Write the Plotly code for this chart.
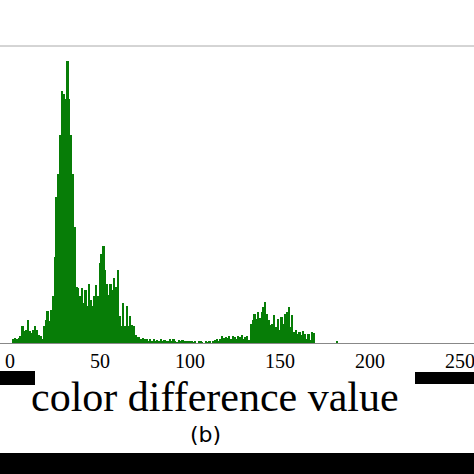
import plotly.graph_objects as go

# histogram counts per colour-difference bin (relative units)
low = [0, 0, 1.5, 1.7, 1.2, 1.8, 2.5, 5.6, 4, 4.5, 7.9, 4, 3.4, 4.5, 5.6, 4.5, 2.8, 2.2, 1.5, 5.6,
       7.9, 10.7, 7.3, 11.2, 15.7, 29, 49, 57, 70, 85, 84, 82, 95, 82, 70, 57, 39, 19, 18.5, 15.7,
       18.5, 13.5, 18, 12.3, 20, 14.6, 12.3, 15.7, 19.6, 15.7, 27, 30, 32.5, 24.7, 20, 16.3, 20, 18, 21.9, 19,
       24.7, 9, 5.6, 13.5, 5.6, 12.3, 5.6, 9, 6.2, 5.6, 2.8, 1.9, 1.9, 1.5, 1.8, 1.2, 1.5, 0.8, 1.2, 0.6,
       1.4, 0.5, 1.0, 0.7, 1.3, 0.4, 1.1, 0.8, 0.5, 1.2, 0.6, 1.3, 0.7, 0.3, 1.0, 0.5, 0.9, 0.4, 0.6, 0.5,
       0.4, 0.8, 0.3, 0.6, 0, 0.4, 0.7, 0.3, 0, 0.5, 0.3, 0.6, 0, 0.4, 0.9, 1.2, 0.5, 1.5, 2.2, 1.8,
       2.0, 1.6, 2.5, 1.2, 2.2, 2.0, 1.5, 2.4, 1.9, 2.6, 1.2, 2.0, 2.5, 1.0]
cluster = [6.5, 7.6, 9.9, 8.2, 10.4, 8.5, 10.4, 12, 13.8, 9.9, 7.6, 6, 6.5, 9.3, 5.4, 8.2,
           4.3, 8.7, 6.5, 9.9, 10.4, 12, 5.4, 9.3, 3.7, 4.3, 3.2, 3.7, 2.6, 4.0, 3.2, 1.5, 3.0, 0.9, 3.7, 3.5]
tail = [0] * 12 + [0.8]
counts = low + cluster + tail
bins = list(range(len(counts)))

tick_vals = [0, 50, 100, 150, 200, 250]

# plot area spans pixels y 46..343, x 0..474
def py(p):
    return (343 - p) / 297

fig = go.Figure(go.Bar(x=bins, y=counts, width=1, marker=dict(color="#077d07", line_width=0)))

fig.update_layout(
    width=474, height=474, margin=dict(l=0, r=0, t=46, b=131),
    plot_bgcolor="white", paper_bgcolor="white", showlegend=False, bargap=0,
    xaxis=dict(range=[-5.56, 257.8], tickvals=tick_vals, showgrid=False, zeroline=False,
               showline=True, linecolor="#888", linewidth=1, ticklabeloverflow="allow",
               tickfont=dict(family="Liberation Serif", size=20, color="black")),
    yaxis=dict(range=[0, 100], visible=False),
    shapes=[
        dict(type="line", xref="paper", yref="paper", x0=0, x1=1, y0=1, y1=1, line=dict(color="#aaa", width=1)),
        dict(type="rect", xref="paper", yref="paper", x0=0, x1=35/474, y0=py(385), y1=py(371),
             fillcolor="black", line_width=0),
        dict(type="rect", xref="paper", yref="paper", x0=415/474, x1=1, y0=py(384), y1=py(372),
             fillcolor="black", line_width=0),
        dict(type="rect", xref="paper", yref="paper", x0=0, x1=1, y0=py(480), y1=py(453),
             fillcolor="black", line_width=0),
    ],
    annotations=[
        dict(text="color difference value", xref="paper", yref="paper", x=215/474, y=py(397),
             yanchor="middle", showarrow=False, font=dict(family="Liberation Serif", size=42, color="black")),
        dict(text="(b)", xref="paper", yref="paper", x=205/474, y=py(434),
             yanchor="middle", showarrow=False, font=dict(family="DejaVu Sans", size=22, color="black")),
    ],
)
fig.write_html("out.html", config={"displayModeBar": False},
               post_script="document.body.style.margin='0';")
